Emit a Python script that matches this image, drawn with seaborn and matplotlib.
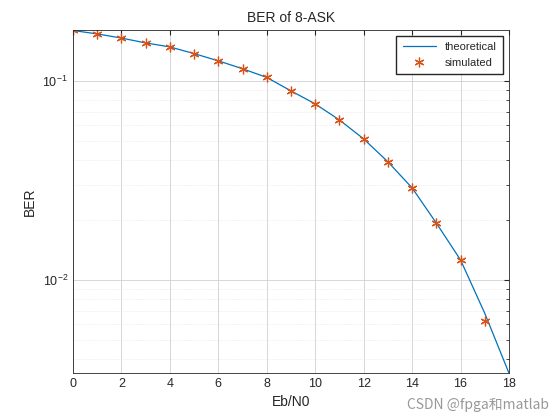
import matplotlib
matplotlib.use("Agg")
import matplotlib.pyplot as plt
import seaborn as sns
import pandas as pd

ebn0 = list(range(0, 19))
ber_theory = [0.179, 0.172, 0.164, 0.155, 0.148, 0.137, 0.126, 0.115, 0.104, 0.089,
              0.0766, 0.0636, 0.0511, 0.0392, 0.0290, 0.0193, 0.0126, 0.0068, 0.0034]
sim_x = list(range(0, 18))
ber_sim = [0.179, 0.172, 0.164, 0.155, 0.148, 0.137, 0.126, 0.115, 0.104, 0.089,
           0.0766, 0.0636, 0.0511, 0.0392, 0.0290, 0.0193, 0.0126, 0.00622]

sns.set_style("white")
plt.rcParams['font.family'] = ['Arial', 'Liberation Sans', 'DejaVu Sans']
fig = plt.figure(figsize=(5.6, 4.2), dpi=100)
ax = fig.add_axes([73/560, 1-373/420, (509-73)/560, (373-30)/420])
sns.lineplot(x=ebn0, y=ber_theory, ax=ax, color='#0072BD', lw=0.9, label='theoretical')
sns.lineplot(x=sim_x, y=ber_sim, ax=ax, color='#D95319', marker=(6, 2, 0), markersize=7,
             linestyle='none', label='simulated', markeredgecolor='#D95319', markeredgewidth=0.9)
ax.set_yscale('log')
ax.set_xlim(0, 18)
ax.set_ylim(0.00341, 0.180)
ax.set_xticks(range(0, 19, 2))
ax.grid(True, which='major', color='#d0d0d0', lw=0.6)
ax.grid(True, which='minor', color='#e0e0e0', lw=0.5, linestyle=':')
ax.tick_params(labelsize=9, direction='in', which='both', top=True, right=True)
for s in ax.spines.values():
    s.set_color('#262626'); s.set_linewidth(0.6)
ax.set_xlabel('Eb/N0', fontsize=10)
ax.set_ylabel('BER', fontsize=10)
ax.set_title('BER of 8-ASK', fontsize=10)
leg = ax.legend(loc='upper right', fontsize=8, fancybox=False, framealpha=1, edgecolor='#262626',
                borderpad=0.6, handlelength=3)
fig.text(0.98, 0.02, 'CSDN @fpga和matlab', ha='right', va='bottom', fontsize=10, color='#999999',
         family=['Noto Sans CJK SC', 'DejaVu Sans'])
fig.savefig('out.png', dpi=100)
